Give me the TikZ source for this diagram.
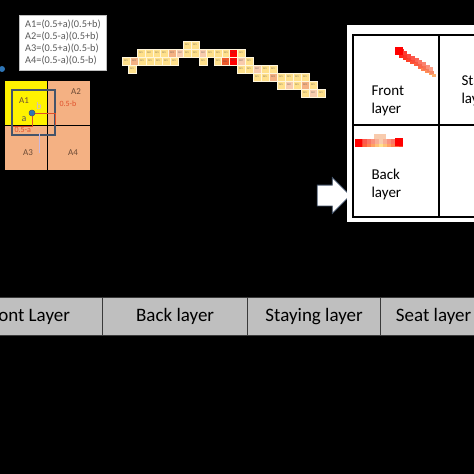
\documentclass[tikz,border=0pt]{standalone}
\usepackage{fontspec}
\setmainfont{Carlito}
\usetikzlibrary{shapes.arrows}
\definecolor{cellyel}{HTML}{FFE08A}
\definecolor{cellsal}{HTML}{F8CBAD}
\definecolor{cellorg}{HTML}{F4B183}
\definecolor{cellhot}{HTML}{EE5A2C}
\definecolor{cellred}{HTML}{FF0000}
\definecolor{quadsal}{HTML}{F4B183}
\definecolor{slate}{HTML}{44546A}
\definecolor{dotblue}{HTML}{2E75B6}
\definecolor{redline}{HTML}{E0502A}
\definecolor{lav}{HTML}{C9B8E0}
\definecolor{barfill}{HTML}{BFBFBF}
\definecolor{barline}{HTML}{3A3A3A}
\definecolor{txtgray}{HTML}{595959}
\definecolor{quadtxt}{HTML}{6B4A35}
\tikzset{
  heat/.style={fill=#1, draw=white!70!cellyel, line width=0.3pt, minimum width=7.8,
    minimum height=8, inner sep=0pt, anchor=north west, text=black!70,
    font=\fontsize{2.6}{3}\selectfont},
  quad/.style={minimum width=42, minimum height=44, inner sep=0pt, anchor=north west},
  quadlabel/.style={text=quadtxt, font=\fontsize{9}{10}\selectfont},
  layercell/.style={fill=barfill, draw=barline, line width=1.2pt, minimum height=38,
    inner sep=0pt, anchor=north west, font=\fontsize{19}{22}\selectfont},
  panellabel/.style={align=left, anchor=north west, font=\fontsize{15}{18}\selectfont}
}
\begin{document}
\begin{tikzpicture}[x=1pt, y=-1pt]
    % Background
    \useasboundingbox (0,0) rectangle (474,474);
    \fill[black] (0,0) rectangle (474,474);
    \clip (0,0) rectangle (474,474);
    % Formula box
    \node[fill=white, draw=black!25, anchor=north west, align=left, text=txtgray,
      font=\fontsize{10.3}{12.2}\selectfont, inner xsep=6, inner ysep=4.5] (formulas) at (19,15)
      {A1=(0.5+a)(0.5+b)\\A2=(0.5-a)(0.5+b)\\A3=(0.5+a)(0.5-b)\\A4=(0.5-a)(0.5-b)};
    \fill[dotblue] (2,69) circle (3);
    % Quadrants
    \node[quad, fill=yellow] (qa) at (5,81) {};
    \node[quad, fill=quadsal] (qb) at (48,81) {};
    \node[quad, fill=quadsal] (qc) at (5,126) {};
    \node[quad, fill=quadsal] (qd) at (48,126) {};
    \node[quadlabel] (la) at (24,101) {A1};
    \node[quadlabel] (lb) at (76,92) {A2};
    \node[quadlabel] (lc) at (28,153) {A3};
    \node[quadlabel] (ld) at (73,153) {A4};
    % Sample window
    \draw[slate, line width=1.5pt] (12,90) rectangle (55,135);
    \draw[redline, line width=0.8pt] (32,113) -- (55,113) -- (55,125);
    \draw[redline, line width=0.8pt] (32,113) -- (32,126) -- (13,126);
    \draw[lav, line width=0.6pt] (39,133) -- (39,153);
    \node[text=lav, font=\fontsize{10}{10}\selectfont] (lblb) at (39,106) {b};
    \node[text=txtgray, font=\fontsize{10}{10}\selectfont] (lbla) at (24,119) {a};
    \node[text=redline, font=\fontsize{8}{9}\selectfont, anchor=west] (lblbb) at (56,104) {0.5-b};
    \node[text=redline, font=\fontsize{8}{9}\selectfont, anchor=west] (lblaa) at (11,130) {0.5-a};
    \fill[dotblue] (32,113) circle (3);
    \draw[slate, line width=0.5pt] (32,113) circle (3);
    % Heat strip
    \foreach \x/\y/\c/\v [count=\i] in {
      183/41/cellyel/0.1, 191/41/cellyel/0.1,
      137/49/cellyel/0.1, 145/49/cellyel/0.2, 153/49/cellyel/0.1, 160/49/cellyel/0.1,
      168/49/cellorg/0.3, 176/49/cellsal/0.2, 183/49/cellyel/0.1, 191/49/cellyel/0.1,
      199/49/cellsal/0.2, 206/49/cellyel/0.1, 214/49/cellyel/0.1, 222/49/cellyel/0.1,
      229/49/cellred/0.9, 237/49/cellyel/0.1,
      122/57/cellyel/0.1, 130/57/cellorg/0.3, 138/57/cellyel/0.1, 146/57/cellyel/0.1,
      154/57/cellyel/0.1, 162/57/cellyel/0.1, 170/57/cellyel/0.1,
      199/57/cellyel/0.1, 214/57/cellyel/0.1, 221/57/cellhot/0.6, 229/57/cellred/0.9,
      237/57/cellsal/0.2, 245/57/cellyel/0.1,
      128/65/cellyel/0.1,
      237/65/cellyel/0.1, 245/65/cellyel/0.1, 253/65/cellsal/0.2, 261/65/cellyel/0.1,
      269/65/cellyel/0.1,
      253/73/cellyel/0.1, 261/73/cellyel/0.1, 269/73/cellorg/0.3, 277/73/cellyel/0.1,
      285/73/cellyel/0.1, 293/73/cellyel/0.1, 301/73/cellyel/0.1,
      277/81/cellyel/0.1, 285/81/cellsal/0.2, 293/81/cellyel/0.1, 301/81/cellorg/0.3,
      309/81/cellyel/0.1,
      301/89/cellyel/0.1, 309/89/cellsal/0.2, 317/89/cellyel/0.1}
      \node[heat=\c] (h\i) at (\x,\y) {\v};
    % Arrow
    \node[single arrow, fill=white, draw=slate, line width=0.8pt, minimum width=35,
      minimum height=33, single arrow head extend=7.5, inner xsep=0pt, inner ysep=10pt]
      (go) at (328.5,195.5) {};
    % Right panel
    \fill[white] (347,25) rectangle (480,222);
    \draw[black, line width=1.5pt] (353,35) rectangle (482,217);
    \draw[black, line width=1.5pt] (439,35) -- (439,217);
    \draw[black, line width=1.5pt] (353,125) -- (482,125);
    \foreach \i in {0,...,9} {
      \pgfmathtruncatemacro{\p}{85-7*\i}
      \fill[red!\p!cellsal] (396+3.7*\i,47+2.2*\i) rectangle +(4,4);
      \fill[red!\p!cellorg] (397+3.7*\i,51+2.2*\i) rectangle +(4,3.5);
      \fill[red!\p!cellyel] (399+3.7*\i,54.5+2.2*\i) rectangle +(4,3);
    }
    \fill[cellred] (395,47) rectangle (403,55);
    \foreach \i in {0,...,11} {
      \pgfmathtruncatemacro{\p}{abs(6-\i)*14}
      \fill[red!\p!cellsal] (355+4*\i,139) rectangle +(4,5);
      \fill[red!\p!cellyel] (355+4*\i,144) rectangle +(4,3);
    }
    \fill[cellred] (355,139) rectangle (362,147);
    \fill[cellred] (395,138) rectangle (403,146);
    \fill[cellsal] (374,134) rectangle (386,139);
    \node[panellabel] (front) at (368,82) {Front\\layer};
    \node[panellabel] (back) at (368,166) {Back\\layer};
    \node[panellabel] (stay) at (458,72) {Staying\\layer};
    % Layer bar
    \node[layercell, minimum width=152] (barfront) at (-50,297) {Front Layer};
    \node[layercell, minimum width=145] (barback) at (102,297) {Back layer};
    \node[layercell, minimum width=133] (barstay) at (247,297) {Staying layer};
    \node[layercell, minimum width=106] (barseat) at (380,297) {Seat layer};
\end{tikzpicture}
\end{document}
